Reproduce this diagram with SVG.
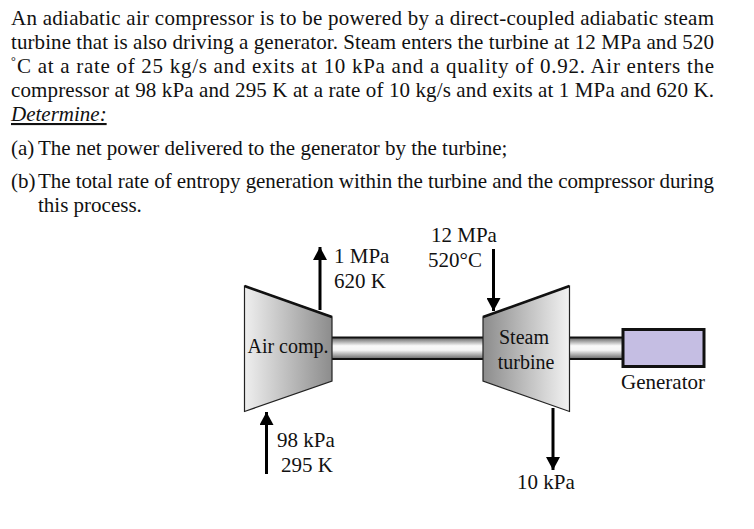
<svg xmlns="http://www.w3.org/2000/svg" width="754" height="529" viewBox="0 0 754 529">
<style>
text{font-family:"Liberation Serif","Times New Roman",serif;font-size:21px;fill:#111}
.d{font-size:20px}
.deg{font-size:12px}
.m{text-anchor:middle}
.o{stroke:#222;stroke-width:1.2}
.t{stroke:#111;stroke-width:2.6;fill:none}
.a{stroke:#000;stroke-width:3;fill:none;marker-end:url(#h)}
</style>
<defs>
<linearGradient id="gc" x1="0" x2="1" y1="0" y2="0"><stop offset="0" stop-color="#efefef"/><stop offset="1" stop-color="#8c8c8c"/></linearGradient>
<linearGradient id="gt" x1="0" x2="1" y1="0" y2="0"><stop offset="0" stop-color="#8c8c8c"/><stop offset="1" stop-color="#f2f2f2"/></linearGradient>
<linearGradient id="gs" x1="0" x2="0" y1="0" y2="1"><stop offset="0" stop-color="#555"/><stop offset=".4" stop-color="#fafafa"/><stop offset=".6" stop-color="#f5f5f5"/><stop offset="1" stop-color="#666"/></linearGradient>
<marker id="h" viewBox="0 0 13 14" refX="13" refY="7" markerWidth="13" markerHeight="14" markerUnits="userSpaceOnUse" orient="auto"><path d="M0 0L13 7L0 14Z" fill="#000"/></marker>
</defs>
<g id="problem-text">
<text x="11" y="25" textLength="703" lengthAdjust="spacing">An adiabatic air compressor is to be powered by a direct-coupled adiabatic steam</text>
<text x="11" y="49" textLength="703" lengthAdjust="spacing">turbine that is also driving a generator. Steam enters the turbine at 12 MPa and 520</text>
<text class="deg" x="11" y="65">°</text>
<text x="17" y="73" textLength="697" lengthAdjust="spacing">C at a rate of 25 kg/s and exits at 10 kPa and a quality of 0.92. Air enters the</text>
<text x="11" y="97" textLength="703" lengthAdjust="spacing">compressor at 98 kPa and 295 K at a rate of 10 kg/s and exits at 1 MPa and 620 K.</text>
<text x="11" y="121" font-style="italic" text-decoration="underline">Determine:</text>
<text x="11" y="155">(a)</text><text x="38" y="155">The net power delivered to the generator by the turbine;</text>
<text x="11" y="188">(b)</text><text x="38" y="188" textLength="676" lengthAdjust="spacing">The total rate of entropy generation within the turbine and the compressor during</text>
<text x="38" y="212">this process.</text>
</g>
<g id="connectors">
<g id="shaft-1"><rect x="332" y="337" width="151" height="22" fill="url(#gs)"/><path d="M332 337.500H483M332 359H483" stroke="#111" stroke-width="2"/></g>
<g id="shaft-2"><rect x="570" y="337" width="53" height="22" fill="url(#gs)"/><path d="M570 337.500H623M570 359H623" stroke="#111" stroke-width="2"/></g>
<path class="a" d="M320 310V247"/>
<path class="a" d="M266.500 474V412"/>
<path class="a" d="M493.500 249V311"/>
<path class="a" d="M553 408V470"/>
</g>
<g id="air-compressor">
<polygon class="o" points="244.500,286 332,317 332,381 244.500,411.500" fill="url(#gc)"/>
<path class="t" d="M244.500 286L332 317"/>
<text class="d m" x="288" y="353">Air comp.</text>
</g>
<g id="steam-turbine">
<polygon class="o" points="483,317 569.500,286 569.500,411.500 483,381" fill="url(#gt)"/>
<path class="t" d="M483 317L569.500 286"/>
<text class="d m" x="524" y="344">Steam</text>
<text class="d m" x="526" y="369">turbine</text>
</g>
<g id="generator">
<rect x="623" y="329.500" width="81" height="37" fill="#c5bee3" stroke="#111" stroke-width="3"/>
<text class="m" x="663" y="389">Generator</text>
</g>
<g id="labels">
<text x="334" y="263">1 MPa</text>
<text x="334" y="288">620 K</text>
<text x="431" y="242">12 MPa</text>
<text x="428" y="267">520°C</text>
<text x="277" y="447">98 kPa</text>
<text x="281" y="472">295 K</text>
<text x="517" y="489">10 kPa</text>
</g>
</svg>
